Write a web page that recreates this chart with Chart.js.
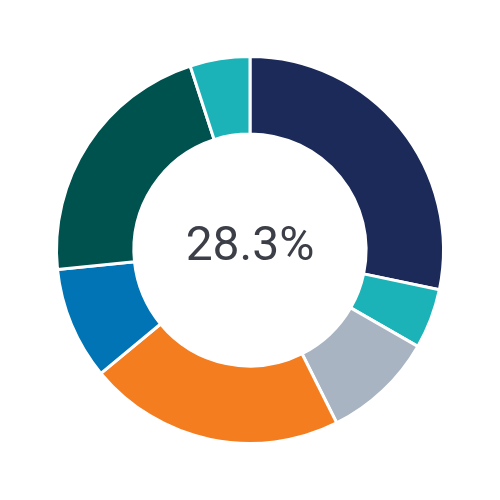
<!DOCTYPE html>
<html><head><meta charset="utf-8">
<script src="https://cdn.jsdelivr.net/npm/chart.js@4"></script>
<style>html,body{margin:0;padding:0;background:#fff}#w{width:500px;height:500px;position:relative}</style>
</head><body><div id="w"><canvas id="c"></canvas></div>
<script>
const labels = ["A","B","C","D","E","F","G"];
const values = [28.3, 5.0, 9.3, 21.4, 9.4, 21.6, 5.0];
const colors = ["#1c2a5a","#1bb3b7","#a8b4c2","#f47d20","#0074b5","#00524f","#1bb3b7"];
const centerText = "28.3%";
const centerPlugin = {
  id: "center",
  afterDraw(chart){
    const {ctx} = chart;
    const m = chart.getDatasetMeta(0).data[0];
    ctx.save();
    ctx.font = "48px Roboto";
    ctx.fillStyle = "#3c3f47";
    ctx.textAlign = "center";
    ctx.textBaseline = "middle";
    ctx.fillText(centerText, m.x, m.y - 2);
    ctx.restore();
  }
};
new Chart(document.getElementById("c"), {
  type: "doughnut",
  data: { labels, datasets: [{ data: values, backgroundColor: colors, borderColor: "#ffffff", borderWidth: 3 }] },
  options: {
    responsive: true, maintainAspectRatio: false, animation: false,
    cutout: "60%",
    layout: { padding: 55 },
    plugins: { legend: { display: false }, tooltip: { enabled: false } }
  },
  plugins: [centerPlugin]
});
</script></body></html>
